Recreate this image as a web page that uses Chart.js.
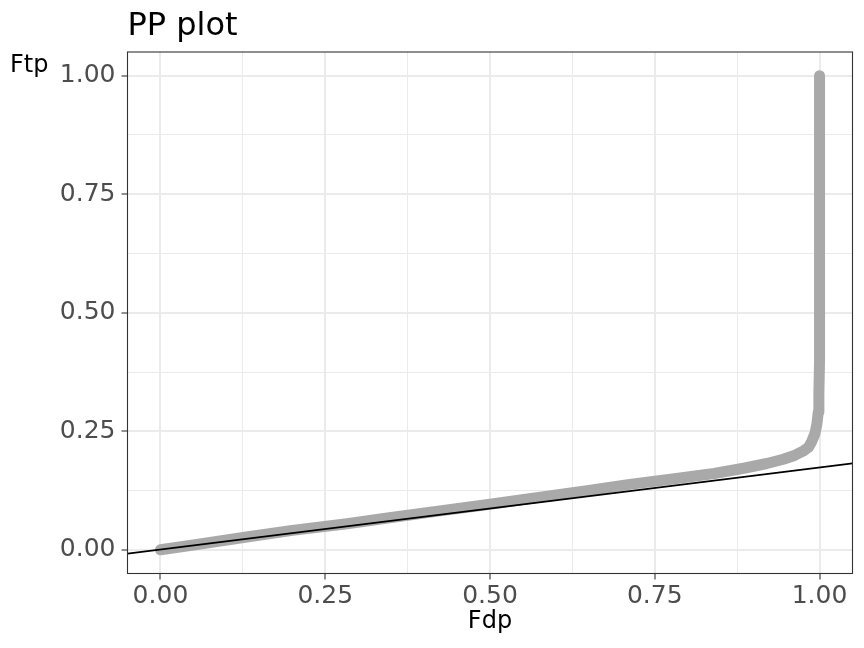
<!DOCTYPE html>
<html>
<head>
<meta charset="utf-8">
<script src="https://cdn.jsdelivr.net/npm/chart.js@4"></script>
<style>
html,body{margin:0;padding:0;background:#fff;}
#wrap{width:864px;height:648px;position:relative;}
</style>
</head>
<body>
<div id="wrap"><canvas id="c" width="864" height="648"></canvas></div>
<script>
// ---- data ----
const ppX = [0, 0.05, 0.136, 0.2, 0.283, 0.35, 0.424, 0.5, 0.571, 0.65, 0.712, 0.78, 0.84, 0.885, 0.92, 0.945, 0.962, 0.975, 0.983, 0.988, 0.993, 0.996, 0.998, 0.999, 1.0, 1.0, 1.0];
const ppY = [0, 0.010, 0.028, 0.041, 0.055, 0.068, 0.082, 0.096, 0.110, 0.125, 0.138, 0.150, 0.161, 0.172, 0.182, 0.191, 0.199, 0.208, 0.216, 0.228, 0.245, 0.265, 0.29, 0.33, 0.40, 0.70, 1.0];
const ablineX = [-0.05, 1.05];
const ablineY = [-0.0079, 0.1824];
const majorTicks = [0, 0.25, 0.5, 0.75, 1];
const minorTicks = [0.125, 0.375, 0.625, 0.875];
const tickLabels = ['0.00', '0.25', '0.50', '0.75', '1.00'];
const titleText = 'PP plot';
const xTitle = 'Fdp';
const yTitle = 'Ftp';

const allTicks = majorTicks.concat(minorTicks).sort((a,b)=>a-b);
function isMajor(v){ return majorTicks.some(m => Math.abs(m - v) < 1e-9); }
function labelFor(v){ const i = majorTicks.findIndex(m => Math.abs(m - v) < 1e-9); return i >= 0 ? tickLabels[i] : ''; }

const ppData = ppX.map((x,i)=>({x:x, y:ppY[i]}));
const abData = ablineX.map((x,i)=>({x:x, y:ablineY[i]}));

const FONT = "'DejaVu Sans', sans-serif";

const decor = {
  id: 'decor',
  afterDatasetsDraw(chart){
    const ctx = chart.ctx, a = chart.chartArea;
    ctx.save();
    ctx.strokeStyle = '#333333';
    ctx.lineWidth = 1.1;
    ctx.strokeRect(a.left, a.top, a.right - a.left, a.bottom - a.top);
    ctx.restore();
  },
  afterDraw(chart){
    const ctx = chart.ctx, a = chart.chartArea;
    ctx.save();
    ctx.fillStyle = '#000000';
    ctx.textBaseline = 'alphabetic';
    ctx.textAlign = 'left';
    ctx.font = '32px ' + FONT;
    ctx.fillText(titleText, a.left, 35);
    ctx.font = '24px ' + FONT;
    ctx.fillText(yTitle, 10, 72);
    ctx.textAlign = 'center';
    ctx.fillText(xTitle, (a.left + a.right) / 2, 628);
    ctx.restore();
  }
};

function axisCfg(isY){
  return {
    type: 'linear',
    min: -0.05,
    max: 1.05,
    afterBuildTicks(scale){ scale.ticks = allTicks.map(v => ({value: v})); },
    afterFit(scale){ if (isY) scale.width = 127.5; else scale.height = 74.5; },
    border: {display: false},
    grid: {
      color: ctx => '#EBEBEB',
      lineWidth: ctx => (ctx.tick && isMajor(ctx.tick.value)) ? 2 : 1,
      drawTicks: true,
      tickLength: 6,
      tickColor: ctx => (ctx.tick && isMajor(ctx.tick.value)) ? '#333333' : 'rgba(0,0,0,0)',
      tickWidth: 1.1
    },
    ticks: {
      autoSkip: false,
      maxRotation: 0,
      padding: isY ? 6 : 2,
      color: '#4D4D4D',
      font: {family: FONT, size: 25},
      callback: v => labelFor(v)
    }
  };
}

new Chart(document.getElementById('c'), {
  type: 'scatter',
  data: {
    datasets: [
      {
        label: 'abline',
        data: abData,
        showLine: true,
        borderColor: '#000000',
        borderWidth: 1.7,
        pointRadius: 0,
        order: 0
      },
      {
        label: 'pp',
        data: ppData,
        showLine: true,
        borderColor: '#A9A9A9',
        backgroundColor: '#A9A9A9',
        borderWidth: 11,
        borderCapStyle: 'round',
        borderJoinStyle: 'round',
        tension: 0,
        pointRadius: 0,
        order: 1
      }
    ]
  },
  options: {
    responsive: false,
    animation: false,
    devicePixelRatio: 1,
    layout: {padding: {left: 0, top: 52, right: 11.5, bottom: 0}},
    plugins: {legend: {display: false}, tooltip: {enabled: false}, title: {display: false}},
    scales: {x: axisCfg(false), y: axisCfg(true)}
  },
  plugins: [decor]
});
</script>
</body>
</html>
